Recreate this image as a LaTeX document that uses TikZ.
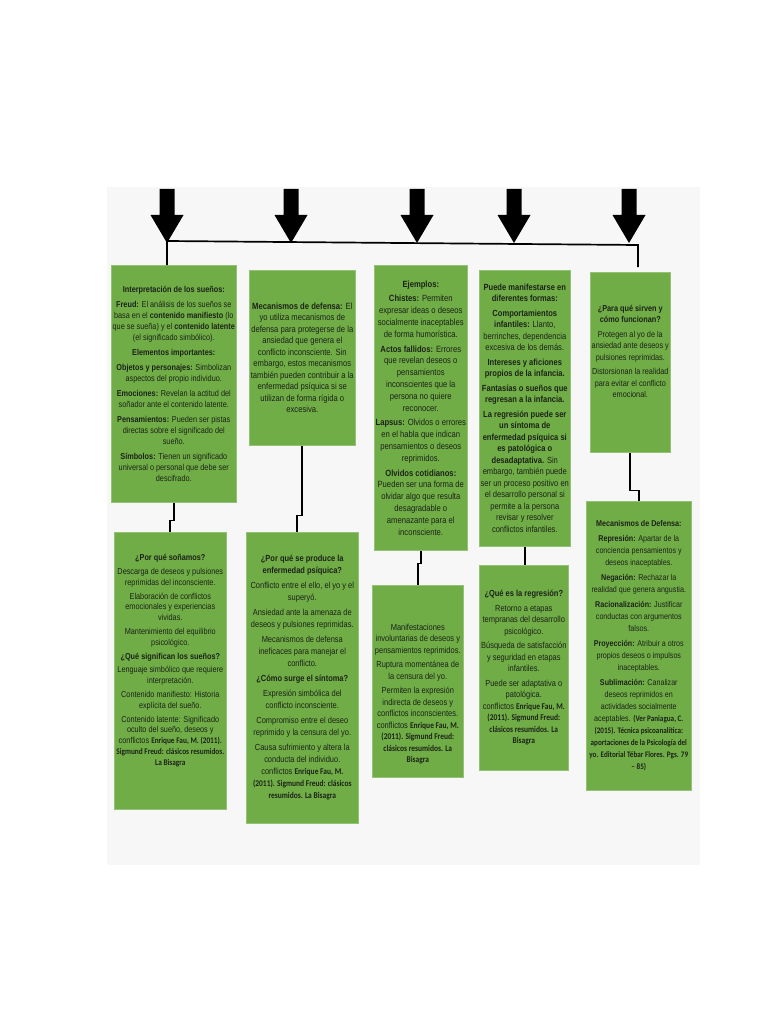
\documentclass[tikz,border=0pt]{standalone}
\usepackage{fontspec}
\setmainfont{Liberation Sans}[FakeStretch=0.85]
\newfontfamily\reffont{Carlito}[FakeStretch=0.85]
\newcommand\cita[1]{{\reffont\bfseries #1}}
\usetikzlibrary{positioning}

\definecolor{boxgreen}{RGB}{112,173,71}
\definecolor{inktext}{RGB}{28,34,24}

\begin{document}
\begin{tikzpicture}[x=1pt, y=-1pt,
    box/.style={fill=boxgreen, draw=boxgreen!75!white, line width=0.6pt,
      align=center, inner sep=1pt, text=inktext, anchor=north west,
      font=\fontsize{9}{11.5}\selectfont},
    link/.style={line width=1.7pt}]
    \useasboundingbox (0,0) rectangle (768,1024);
    \fill[black!3] (107,187) rectangle (700,865);

    % top row
    \node[box, minimum width=125, minimum height=237,
          font=\fontsize{8.6}{11}\selectfont] (interp) at (111,265)
      {\textbf{Interpretación de los sueños:}\\[4pt]
       \textbf{Freud:} El análisis de los sueños se\\
       basa en el \textbf{contenido manifiesto} (lo\\
       que se sueña) y el \textbf{contenido latente}\\
       (el significado simbólico).\\[4pt]
       \textbf{Elementos importantes:}\\[4pt]
       \textbf{Objetos y personajes:} Simbolizan\\
       aspectos del propio individuo.\\[4pt]
       \textbf{Emociones:} Revelan la actitud del\\
       soñador ante el contenido latente.\\[4pt]
       \textbf{Pensamientos:} Pueden ser pistas\\
       directas sobre el significado del\\ sueño.\\[4pt]
       \textbf{Símbolos:} Tienen un significado\\
       universal o personal que debe ser\\ descifrado.};
    \node[box, minimum width=106, minimum height=175] (defensa) at (249,270)
      {\textbf{Mecanismos de defensa:} El\\ yo utiliza mecanismos de\\
       defensa para protegerse de la\\ ansiedad que genera el\\
       conflicto inconsciente. Sin\\ embargo, estos mecanismos\\
       también pueden contribuir a la\\ enfermedad psíquica si se\\
       utilizan de forma rígida o\\ excesiva.};
    \node[box, minimum width=93, minimum height=285,
          font=\fontsize{9}{11.8}\selectfont] (ejemplos) at (374,265)
      {\textbf{Ejemplos:}\\[3pt]
       \textbf{Chistes:} Permiten\\ expresar ideas o deseos\\
       socialmente inaceptables\\ de forma humorística.\\[3pt]
       \textbf{Actos fallidos:} Errores\\ que revelan deseos o\\ pensamientos\\
       inconscientes que la\\ persona no quiere\\ reconocer.\\[3pt]
       \textbf{Lapsus:} Olvidos o errores\\ en el habla que indican\\
       pensamientos o deseos\\ reprimidos.\\[3pt]
       \textbf{Olvidos cotidianos:}\\ Pueden ser una forma de\\
       olvidar algo que resulta\\ desagradable o\\ amenazante para el\\
       inconsciente.};
    \node[box, minimum width=91, minimum height=276,
          font=\fontsize{8.9}{11.5}\selectfont] (formas) at (479,270)
      {\textbf{Puede manifestarse en}\\ \textbf{diferentes formas:}\\[3pt]
       \textbf{Comportamientos}\\ \textbf{infantiles:} Llanto,\\
       berrinches, dependencia\\ excesiva de los demás.\\[3pt]
       \textbf{Intereses y aficiones}\\ \textbf{propios de la infancia.}\\[3pt]
       \textbf{Fantasías o sueños que}\\ \textbf{regresan a la infancia.}\\[3pt]
       \textbf{La regresión puede ser}\\ \textbf{un síntoma de}\\
       \textbf{enfermedad psíquica si}\\ \textbf{es patológica o}\\
       \textbf{desadaptativa.} Sin\\ embargo, también puede\\
       ser un proceso positivo en\\ el desarrollo personal si\\
       permite a la persona\\ revisar y resolver\\ conflictos infantiles.};
    \node[box, minimum width=80, minimum height=180,
          font=\fontsize{8.6}{11.5}\selectfont] (funcion) at (590,272)
      {\textbf{¿Para qué sirven y}\\ \textbf{cómo funcionan?}\\[3pt]
       Protegen al yo de la\\ ansiedad ante deseos y\\
       pulsiones reprimidas.\\[3pt]
       Distorsionan la realidad\\ para evitar el conflicto\\ emocional.\\[10pt]};

    % bottom row
    \node[box, minimum width=112, minimum height=277,
          font=\fontsize{8.6}{10.8}\selectfont] (sonamos) at (114,532)
      {\textbf{¿Por qué soñamos?}\\[3pt]
       Descarga de deseos y pulsiones\\ reprimidas del inconsciente.\\[3pt]
       Elaboración de conflictos\\ emocionales y experiencias\\ vividas.\\[3pt]
       Mantenimiento del equilibrio\\ psicológico.\\[3pt]
       \textbf{¿Qué significan los sueños?}\\[3pt]
       Lenguaje simbólico que requiere\\ interpretación.\\[3pt]
       Contenido manifiesto: Historia\\ explícita del sueño.\\[3pt]
       Contenido latente: Significado\\ oculto del sueño, deseos y\\
       conflictos \cita{Enrique Fau, M. (2011).}\\
       \cita{Sigmund Freud: clásicos resumidos.}\\
       \cita{La Bisagra}\\[11pt]};
    \node[box, minimum width=112, minimum height=291,
          font=\fontsize{8.8}{12}\selectfont] (produce) at (246,532)
      {\textbf{¿Por qué se produce la}\\ \textbf{enfermedad psíquica?}\\[3pt]
       Conflicto entre el ello, el yo y el\\ superyó.\\[3pt]
       Ansiedad ante la amenaza de\\ deseos y pulsiones reprimidas.\\[3pt]
       Mecanismos de defensa\\ ineficaces para manejar el\\ conflicto.\\[3pt]
       \textbf{¿Cómo surge el síntoma?}\\[3pt]
       Expresión simbólica del\\ conflicto inconsciente.\\[3pt]
       Compromiso entre el deseo\\ reprimido y la censura del yo.\\[3pt]
       Causa sufrimiento y altera la\\ conducta del individuo.\\
       conflictos \cita{Enrique Fau, M.}\\
       \cita{(2011). Sigmund Freud: clásicos}\\
       \cita{resumidos. La Bisagra}};
    \node[box, minimum width=91, minimum height=192,
          font=\fontsize{8.8}{11.5}\selectfont] (manif) at (372,585)
      {\\[20pt]Manifestaciones\\ involuntarias de deseos y\\
       pensamientos reprimidos.\\[3pt]
       Ruptura momentánea de\\ la censura del yo.\\[3pt]
       Permiten la expresión\\ indirecta de deseos y\\
       conflictos inconscientes.\\ conflictos \cita{Enrique Fau, M.}\\
       \cita{(2011). Sigmund Freud:}\\ \cita{clásicos resumidos. La}\\
       \cita{Bisagra}};
    \node[box, minimum width=89, minimum height=205,
          font=\fontsize{8.8}{11.5}\selectfont] (regresion) at (479,565)
      {\textbf{¿Qué es la regresión?}\\[3pt]
       Retorno a etapas\\ tempranas del desarrollo\\ psicológico.\\[3pt]
       Búsqueda de satisfacción\\ y seguridad en etapas\\ infantiles.\\[3pt]
       Puede ser adaptativa o\\ patológica.\\
       conflictos \cita{Enrique Fau, M.}\\
       \cita{(2011). Sigmund Freud:}\\ \cita{clásicos resumidos. La}\\
       \cita{Bisagra}};
    \node[box, minimum width=105, minimum height=289,
          font=\fontsize{8.4}{12}\selectfont] (mecdef) at (586,501)
      {\textbf{Mecanismos de Defensa:}\\[3pt]
       \textbf{Represión:} Apartar de la\\ conciencia pensamientos y\\
       deseos inaceptables.\\[3pt]
       \textbf{Negación:} Rechazar la\\ realidad que genera angustia.\\[3pt]
       \textbf{Racionalización:} Justificar\\ conductas con argumentos\\ falsos.\\[3pt]
       \textbf{Proyección:} Atribuir a otros\\ propios deseos o impulsos\\
       inaceptables.\\[3pt]
       \textbf{Sublimación:} Canalizar\\ deseos reprimidos en\\
       actividades socialmente\\ aceptables. \cita{(Ver Paniagua, C.}\\
       \cita{(2015). Técnica psicoanalítica:}\\
       \cita{aportaciones de la Psicología del}\\
       \cita{yo. Editorial Tébar Flores. Pgs. 79}\\
       \cita{– 85)}};

    % arrows and bar
    \foreach \x in {167,291,417,514,629}
      \fill (\x-7.5,189) -- (\x+7.5,189) -- (\x+7.5,215) -- (\x+16.5,215)
            -- (\x,243) -- (\x-16.5,215) -- (\x-7.5,215) -- cycle;
    \coordinate (barL) at (167,241);
    \coordinate (barR) at (638,245);
    \draw[link] (barL |- interp.north) -- (barL) -- (barR)
                -- ([yshift=5pt]barR |- funcion.north);

    % connectors between rows
    \draw[link] (interp.south) -- ++(0,18) -| (sonamos.north);
    \draw[link] (defensa.south) -- ++(0,70) -- ++(-5,0)
                -- ([xshift=-5pt]produce.north);
    \draw[link] (ejemplos.south) -- ++(0,13) -| (manif.north);
    \draw[link] (formas.south) -- (formas.south |- regresion.north);
    \draw[link] (funcion.south) -- ++(0,38) -| (mecdef.north);
  \end{tikzpicture}
\end{document}
